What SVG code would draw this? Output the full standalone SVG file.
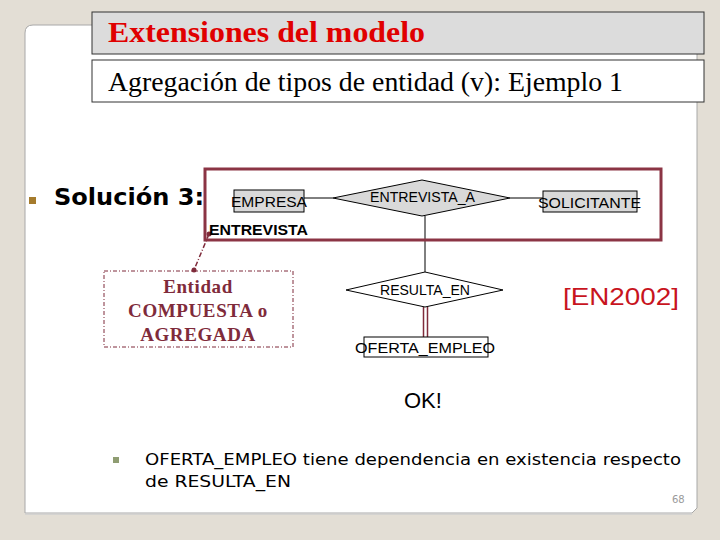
<svg xmlns="http://www.w3.org/2000/svg" width="720" height="540" viewBox="0 0 720 540">
<style>
.ent{fill:#d9d9d9;stroke:#000;stroke-width:1}
.lbl{font-family:"Liberation Sans",Arial,sans-serif;font-size:14px;fill:#000}
.big{font-size:15.5px}
.ln{stroke:#000;stroke-width:1;fill:none}
.dk{stroke:#7f2b3b;fill:none}
.agg{font-family:"Liberation Serif","Times New Roman",serif;font-weight:bold;font-size:19px;fill:#7f2b3b;text-anchor:middle;letter-spacing:0.6px}
</style>
<rect x="0" y="0" width="720" height="540" fill="#e3ded5"/>
<path d="M25,33 Q25,25 33,25 L697,25 L697,508 L692,513 L25,513 Z" fill="#ffffff" stroke="#a8a8a8" stroke-width="1"/>
<line x1="25" y1="514" x2="692" y2="514" stroke="#cfcfcf" stroke-width="1.5"/>

<g id="title">
<rect x="92" y="12" width="612" height="42" fill="#dcdcdc" stroke="#333" stroke-width="1"/>
<text x="108" y="42" font-family="'Liberation Serif','Times New Roman',serif" font-weight="bold" font-size="30" fill="#e00000" textLength="317" lengthAdjust="spacingAndGlyphs">Extensiones del modelo</text>
</g>
<g id="subtitle">
<rect x="92" y="60" width="612" height="42" fill="#ffffff" stroke="#333" stroke-width="1"/>
<text x="108" y="91" font-family="'Liberation Serif','Times New Roman',serif" font-size="28" fill="#000" textLength="515" lengthAdjust="spacingAndGlyphs">Agregación de tipos de entidad (v): Ejemplo 1</text>
</g>

<g id="bullet1">
<rect x="29" y="197" width="7" height="7" fill="#a57b2c"/>
<text x="54" y="205" font-family="'DejaVu Sans',Verdana,sans-serif" font-weight="bold" font-size="22.5" fill="#000" textLength="150" lengthAdjust="spacingAndGlyphs">Solución 3:</text>
</g>

<g id="connectors">
<line class="ln" x1="304" y1="198" x2="333" y2="198"/>
<line class="ln" x1="510" y1="198" x2="543" y2="198"/>
<line class="ln" x1="425" y1="216" x2="425" y2="272"/>
<line class="dk" x1="423.5" y1="307" x2="423.5" y2="337" stroke-width="1.5"/>
<line class="dk" x1="427.5" y1="307" x2="427.5" y2="337" stroke-width="1.5"/>
<line class="dk" x1="209" y1="234" x2="194" y2="270" stroke-width="1.5" stroke-dasharray="5 2 1 2"/>
<circle cx="209" cy="234" r="2.5" fill="#7f2b3b"/>
<circle cx="194" cy="270" r="2.5" fill="#7f2b3b"/>
</g>

<g id="aggregate">
<rect x="205" y="169" width="456" height="71" fill="none" stroke="#8b3444" stroke-width="3"/>
<text x="209" y="235" font-family="'Liberation Sans',Arial,sans-serif" font-weight="bold" font-size="15.5" fill="#000" textLength="99" lengthAdjust="spacingAndGlyphs">ENTREVISTA</text>
</g>

<g id="empresa">
<rect class="ent" x="234" y="190" width="70" height="22"/>
<text class="lbl big" x="231" y="207" textLength="76" lengthAdjust="spacingAndGlyphs">EMPRESA</text>
</g>
<g id="entrevista_a">
<polygon points="333,198 422,180 510,198 422,216" fill="#d9d9d9" stroke="#000" stroke-width="1"/>
<text class="lbl" x="370" y="202" textLength="105" lengthAdjust="spacingAndGlyphs">ENTREVISTA_A</text>
</g>
<g id="solicitante">
<rect class="ent" x="543" y="191" width="94" height="21"/>
<text class="lbl big" x="538" y="208" textLength="103" lengthAdjust="spacingAndGlyphs">SOLICITANTE</text>
</g>
<g id="resulta_en">
<polygon points="346,290 425,272 503,290 425,307" fill="#ffffff" stroke="#000" stroke-width="1"/>
<text class="lbl" x="380" y="295" textLength="90" lengthAdjust="spacingAndGlyphs">RESULTA_EN</text>
</g>
<g id="oferta_empleo">
<rect x="364" y="337" width="124" height="20" fill="#ffffff" stroke="#000" stroke-width="1"/>
<text class="lbl big" x="355" y="353" textLength="140" lengthAdjust="spacingAndGlyphs">OFERTA_EMPLEO</text>
</g>

<g id="note">
<rect x="104" y="271" width="189" height="76" fill="none" stroke="#7f2b3b" stroke-width="1" stroke-dasharray="4 2 1 2"/>
<text class="agg" x="198" y="293">Entidad</text>
<text class="agg" x="198" y="317">COMPUESTA o</text>
<text class="agg" x="198" y="341">AGREGADA</text>
</g>

<text x="563" y="305" font-family="'Liberation Sans',Arial,sans-serif" font-size="24" fill="#c8141e" textLength="116" lengthAdjust="spacingAndGlyphs">[EN2002]</text>
<text x="404" y="408" font-family="'Liberation Sans',Arial,sans-serif" font-size="22" fill="#000">OK!</text>

<g id="bullet2">
<rect x="113" y="457" width="6" height="6" fill="#8f9d72"/>
<text x="145" y="465" font-family="'DejaVu Sans',Tahoma,sans-serif" font-size="16.5" fill="#000" textLength="536" lengthAdjust="spacingAndGlyphs">OFERTA_EMPLEO tiene dependencia en existencia respecto</text>
<text x="145" y="487" font-family="'DejaVu Sans',Tahoma,sans-serif" font-size="16.5" fill="#000" textLength="146" lengthAdjust="spacingAndGlyphs">de RESULTA_EN</text>
</g>
<text x="672" y="503" font-family="'DejaVu Sans',Verdana,sans-serif" font-size="10" fill="#9a9a9a">68</text>
</svg>
